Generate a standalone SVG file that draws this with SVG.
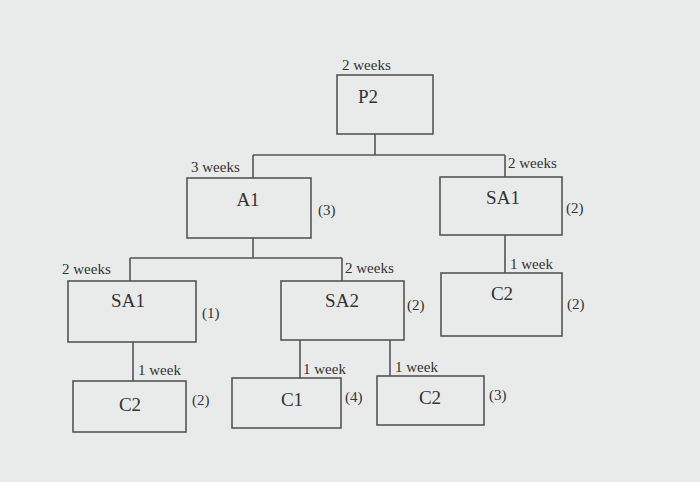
<svg xmlns="http://www.w3.org/2000/svg" width="700" height="482" viewBox="0 0 700 482">
<style>
.b{fill:none;stroke:#555;stroke-width:1.6}
.l{stroke:#555;stroke-width:1.6;fill:none}
text{font-family:"Liberation Serif",serif;fill:#333}
.n{font-size:19px;text-anchor:middle}
.w{font-size:15px}
</style>
<rect width="700" height="482" fill="#e9ebea"/>
<g id="connectors">
<path class="l" d="M375 134V155M253 155H505M253 155V178M505 155V177"/>
<path class="l" d="M253 238V258M130 258H342M130 258V281M342 258V281"/>
<path class="l" d="M505 235V273M133 342V381M300 340V378M390 340V376"/>
</g>
<g id="P2"><rect class="b" x="337" y="75" width="96" height="59"/><text class="n" x="368" y="103">P2</text><text class="w" x="342" y="70">2 weeks</text></g>
<g id="A1"><rect class="b" x="187" y="178" width="124" height="60"/><text class="n" x="248" y="206">A1</text><text class="w" x="191" y="172">3 weeks</text><text class="w" x="318" y="215">(3)</text></g>
<g id="SA1r"><rect class="b" x="440" y="177" width="122" height="58"/><text class="n" x="503" y="204">SA1</text><text class="w" x="508" y="168">2 weeks</text><text class="w" x="566" y="213">(2)</text></g>
<g id="SA1l"><rect class="b" x="68" y="281" width="128" height="61"/><text class="n" x="128" y="307">SA1</text><text class="w" x="62" y="274">2 weeks</text><text class="w" x="202" y="318">(1)</text></g>
<g id="SA2"><rect class="b" x="281" y="281" width="123" height="59"/><text class="n" x="342" y="307">SA2</text><text class="w" x="345" y="273">2 weeks</text><text class="w" x="407" y="310">(2)</text></g>
<g id="C2r"><rect class="b" x="441" y="273" width="121" height="63"/><text class="n" x="502" y="300">C2</text><text class="w" x="510" y="269">1 week</text><text class="w" x="567" y="309">(2)</text></g>
<g id="C2l"><rect class="b" x="73" y="381" width="113" height="51"/><text class="n" x="130" y="411">C2</text><text class="w" x="138" y="375">1 week</text><text class="w" x="192" y="405">(2)</text></g>
<g id="C1"><rect class="b" x="232" y="378" width="109" height="50"/><text class="n" x="292" y="406">C1</text><text class="w" x="303" y="374">1 week</text><text class="w" x="345" y="402">(4)</text></g>
<g id="C2m"><rect class="b" x="377" y="376" width="107" height="49"/><text class="n" x="430" y="404">C2</text><text class="w" x="395" y="372">1 week</text><text class="w" x="489" y="400">(3)</text></g>
</svg>
